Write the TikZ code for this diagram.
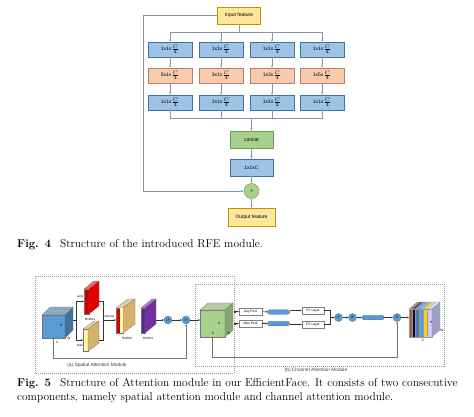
\documentclass[tikz,border=0pt]{standalone}
\usepackage{fontspec}
\newfontfamily\lsans{Liberation Sans}
\usetikzlibrary{arrows.meta,calc}
\definecolor{bfill}{HTML}{9DC3E6}
\definecolor{bdraw}{HTML}{41719C}
\definecolor{ofill}{HTML}{F8CBAD}
\definecolor{odraw}{HTML}{B4806A}
\definecolor{yfill}{HTML}{FFE699}
\definecolor{ydraw}{HTML}{BF9000}
\definecolor{gfill}{HTML}{A9D18E}
\definecolor{gdraw}{HTML}{6A9A4A}
\definecolor{conn}{HTML}{8497B0}
\definecolor{opblue}{HTML}{5B9BD5}
\definecolor{purp}{HTML}{7030A0}
\definecolor{purpf}{HTML}{5A2590}
\definecolor{tan}{HTML}{D4B26A}
\newcommand{\cub}[9]{%
 \filldraw[fill=#8,draw=black!55,line width=0.25pt] (#2,#3) rectangle ({#2+#4},{#3+#5});
 \filldraw[fill=#9!60!white,draw=black!55,line width=0.25pt] (#2,#3) -- ++(#6,-#7) -- ++(#4,0) -- ++(-#6,#7) -- cycle;
 \filldraw[fill=#9,draw=black!55,line width=0.25pt] ({#2+#4},#3) -- ++(#6,-#7) -- ++(0,#5) -- ++(-#6,#7) -- cycle;
 \node[inner sep=0,outer sep=0,minimum width=#4,minimum height=#5,anchor=north west] (#1) at (#2,#3) {};
}
\begin{document}
\begin{tikzpicture}[x=1pt,y=-1pt,
  bbox/.style={draw=bdraw, fill=bfill, line width=0.4pt, minimum width=44, minimum height=15, inner sep=0, font=\lsans\fontsize{5}{6}\selectfont},
  obox/.style={bbox, draw=odraw, fill=ofill},
  ybox/.style={bbox, draw=ydraw, fill=yfill, minimum width=43, minimum height=17},
  gbox/.style={bbox, draw=gdraw, fill=gfill, minimum width=43, minimum height=17},
  ar4/.style={-{Stealth[length=2.5pt,width=2pt]}, draw=conn, line width=0.5pt},
  ln4/.style={draw=conn, line width=0.5pt},
  ar5/.style={-{Stealth[length=2.2pt,width=1.8pt]}, draw=black!80, line width=0.4pt},
  ln5/.style={draw=black!80, line width=0.4pt},
  fb5/.style={-{Stealth[length=2.2pt,width=1.8pt]}, draw=black!55, line width=0.5pt},
  tiny5/.style={font=\lsans\fontsize{3.2}{4}\selectfont, inner sep=0},
  modlab/.style={font=\lsans\fontsize{4.8}{5}\selectfont, inner sep=0, text=black!75},
  pbox/.style={draw=black!50, fill=white, line width=0.3pt, minimum width=23, minimum height=7, inner sep=0, font=\lsans\fontsize{3.3}{4}\selectfont},
  opc/.style={circle, fill=opblue, draw=bdraw, line width=0.3pt, minimum size=8, inner sep=0, font=\fontsize{4}{4}\selectfont},
  caps/.style={rectangle, rounded corners=2pt, fill=opblue, draw=bdraw, line width=0.3pt, minimum width=22, minimum height=4.5, inner sep=0},
  dbox/.style={draw=black!40, line width=0.5pt, dash pattern=on 1pt off 1pt},
  captxt/.style={font=\fontsize{11.4}{13.5}\selectfont, inner sep=0, anchor=base west, align=left}
]
\useasboundingbox (0,0) rectangle (474,416);
\fill[white] (0,0) rectangle (474,416);

% ---------------- Fig. 4 ----------------
\node[ybox] (in) at (239,15.5) {Input feature};
\foreach \c/\x in {1/170,2/221,3/272,4/322}{
  \node[bbox] (a\c) at (\x,49.5) {1x1x$\frac{C}{4}$};
  \node[bbox] (c\c) at (\x,102.5) {1x1x$\frac{C}{4}$};
}
\node[obox] (b1) at (170,75.5) {5x1x$\frac{C}{4}$};
\node[obox] (b2) at (221,75.5) {3x1x$\frac{C}{4}$};
\node[obox] (b3) at (272,75.5) {1x3x$\frac{C}{4}$};
\node[obox] (b4) at (322,75.5) {1x5x$\frac{C}{4}$};
\node[gbox] (concat) at (251.5,139.5) {concat};
\node[bbox, minimum width=43, minimum height=17] (conv) at (251.5,167.5) {1x1xC};
\node[circle, draw=gdraw, fill=gfill, line width=0.4pt, minimum size=15, inner sep=0, font=\lsans\fontsize{5}{6}\selectfont] (plus) at (251.5,191) {+};
\node[ybox, minimum width=47, minimum height=18] (out) at (251.5,217) {Output feature};

\coordinate (split) at (239,32);
\coordinate (merge) at (251.5,118);
\coordinate (byp) at (143,15.5);
\draw[ln4] (in) -- (split);
\foreach \c in {1,2,3,4}{
  \draw[ar4] (split) -| (a\c.north);
  \draw[ar4] (a\c) -- (b\c);
  \draw[ar4] (b\c) -- (c\c);
  \draw[ln4] (c\c.south) |- (merge);
}
\draw[ar4] (merge) -- (concat);
\draw[ar4] (concat) -- (conv);
\draw[ar4] (conv) -- (plus);
\draw[ar4] (plus) -- (out);
\draw[ar4] (in.west) -- (byp) |- (plus.west);

\node[captxt] (cap4) at (17,247) {\textbf{Fig. 4}\hspace{0.8em}Structure of the introduced RFE module.};

% ---------------- Fig. 5 ----------------
\draw[dbox] (35,276) rectangle (234,373);
\draw[dbox] (195,284) rectangle (444,366);
\node[modlab] (la) at (97,365) {(a) Spatial Attention Module};
\node[modlab] (lb) at (316,370.5) {(b) Channel Attention Module};

% spatial
\cub{bc}{42}{315}{23}{23}{8}{8}{opblue}{bdraw}
\cub{rd}{84}{289}{5}{25}{10}{8}{red!80!black}{red!90!black}
\cub{yl}{83}{329}{5}{22}{11}{8}{yellow!35!white}{tan}
\cub{cc}{116}{308}{7}{25}{12}{9}{red!85!black}{tan}
\fill[yellow!35!white] (119.5,308.2) rectangle (122.8,332.8);
\cub{pu}{141}{308}{4}{25}{11}{9}{purpf}{purp}
\node[tiny5] at (61,325) {H};
\node[tiny5] at (57,342) {C};
\node[tiny5] at (69,338) {W};

\coordinate (bcr) at (73,320);
\coordinate (sp) at (76,320);
\coordinate (mj) at (103,320);
\draw[ln5] (bcr) -- (sp);
\draw[ar5] (sp) |- (rd.west);
\draw[ar5] (sp) |- (yl.west);
\node[tiny5] at (80,297) {avg};
\node[tiny5] at (80,346) {max};
\draw[ln5] ([xshift=10pt]rd.east) -| (mj);
\draw[ln5] ([xshift=11pt]yl.east) -| (mj);
\draw[ar5] (mj) -- (cc.west |- mj);
\node[tiny5] at (109,316) {concat};
\node[tiny5] at (90,319) {HxWx1};
\node[tiny5] at (127,338) {HxWx2};
\node[tiny5] at (148,338) {HxWx1};
\node[opc] (s1) at (168,320) {$\sigma$};
\node[opc] (s2) at (186,320) {$\times$};
\draw[ar5] ([xshift=11pt]pu.east |- s1) -- (s1);
\draw[ar5] (s1) -- (s2);

% channel
\cub{gc}{200}{310}{25}{27}{8}{7}{gfill}{gfill!80!black}
\node[tiny5] at (219,323) {H};
\node[tiny5] at (213,333) {C};
\node[tiny5] at (229,333) {W};
\draw[ar5] (s2) -- (gc.west |- s2);
\draw[fb5] (bc.south) -- ++(0,20) -| (s2.south);

\node[pbox] (avg) at (250.5,311.5) {Avg Pool};
\node[pbox] (max) at (250.5,323.5) {Max Pool};
\node[caps] (cp1) at (278.5,312) {};
\node[caps] (cp2) at (278.5,323.5) {};
\node[pbox, minimum width=22] (fc1) at (313,310.5) {FC Layer};
\node[pbox, minimum width=22] (fc2) at (313,324.5) {FC Layer};
\coordinate (g1) at (234,311.5);
\coordinate (g2) at (234,323.5);
\draw[ar5, {Square[length=1.5pt,width=1.5pt]}-{Stealth[length=2.2pt,width=1.8pt]}] (g1) -- (avg);
\draw[ar5, {Square[length=1.5pt,width=1.5pt]}-{Stealth[length=2.2pt,width=1.8pt]}] (g2) -- (max);
\draw[ar5] (avg) -- (cp1);
\draw[ar5] (max) -- (cp2);
\draw[ar5] (cp1.east |- fc1) -- (fc1);
\draw[ar5] (cp2.east |- fc2) -- (fc2);
\node[opc] (t1) at (338.5,317.5) {$+$};
\node[opc] (t2) at (352.5,317.5) {$\sigma$};
\node[caps] (cp3) at (373,317.5) {};
\node[opc] (t3) at (397,317.5) {$\times$};
\coordinate (mj2) at (330,317.5);
\draw[ln5] (fc1.east) -| (mj2);
\draw[ln5] (fc2.east) -| (mj2);
\draw[ar5] (mj2) -- (t1);
\draw[ar5] (t1) -- (t2);
\draw[ar5] (t2) -- (cp3);
\draw[ar5] (cp3) -- (t3);
\draw[fb5] (gc.south) -- ++(0,20) -| (t3.south);

% output stack
\def\dx{8}\def\dy{7}
\foreach \a/\b/\col in {409/412/brown!80!black, 412/415.5/blue!30!black, 415.5/419.5/opblue!80!black, 419.5/423.5/opblue, 423.5/427.5/yellow!70!orange, 427.5/432/blue!20!white}{
  \filldraw[fill=\col, draw=black!40, line width=0.2pt] (\a,309) rectangle (\b,337);
  \filldraw[fill=\col!70!white, draw=black!40, line width=0.2pt] (\a,309) -- ++(\dx,-\dy) -- ({\b+\dx},{309-\dy}) -- (\b,309) -- cycle;
}
\filldraw[fill=blue!25!gray!60!white, draw=black!40, line width=0.2pt] (432,309) -- ++(\dx,-\dy) -- ++(0,28) -- ++(-\dx,\dy) -- cycle;
\node[inner sep=0, minimum width=23, minimum height=28, anchor=north west] (os) at (409,309) {};
\draw[ar5] (t3) -- (os.west |- t3);
\node[tiny5] at (431,322) {H};
\node[tiny5] at (423,340) {C};
\node[tiny5] at (442,330) {W};

\node[captxt] (cap5) at (17,400) {\textbf{Fig. 5}\hspace{0.8em}Structure of Attention module in our EfficientFace. It consists of two consecutive\\components, namely spatial attention module and channel attention module.};
\end{tikzpicture}
\end{document}
